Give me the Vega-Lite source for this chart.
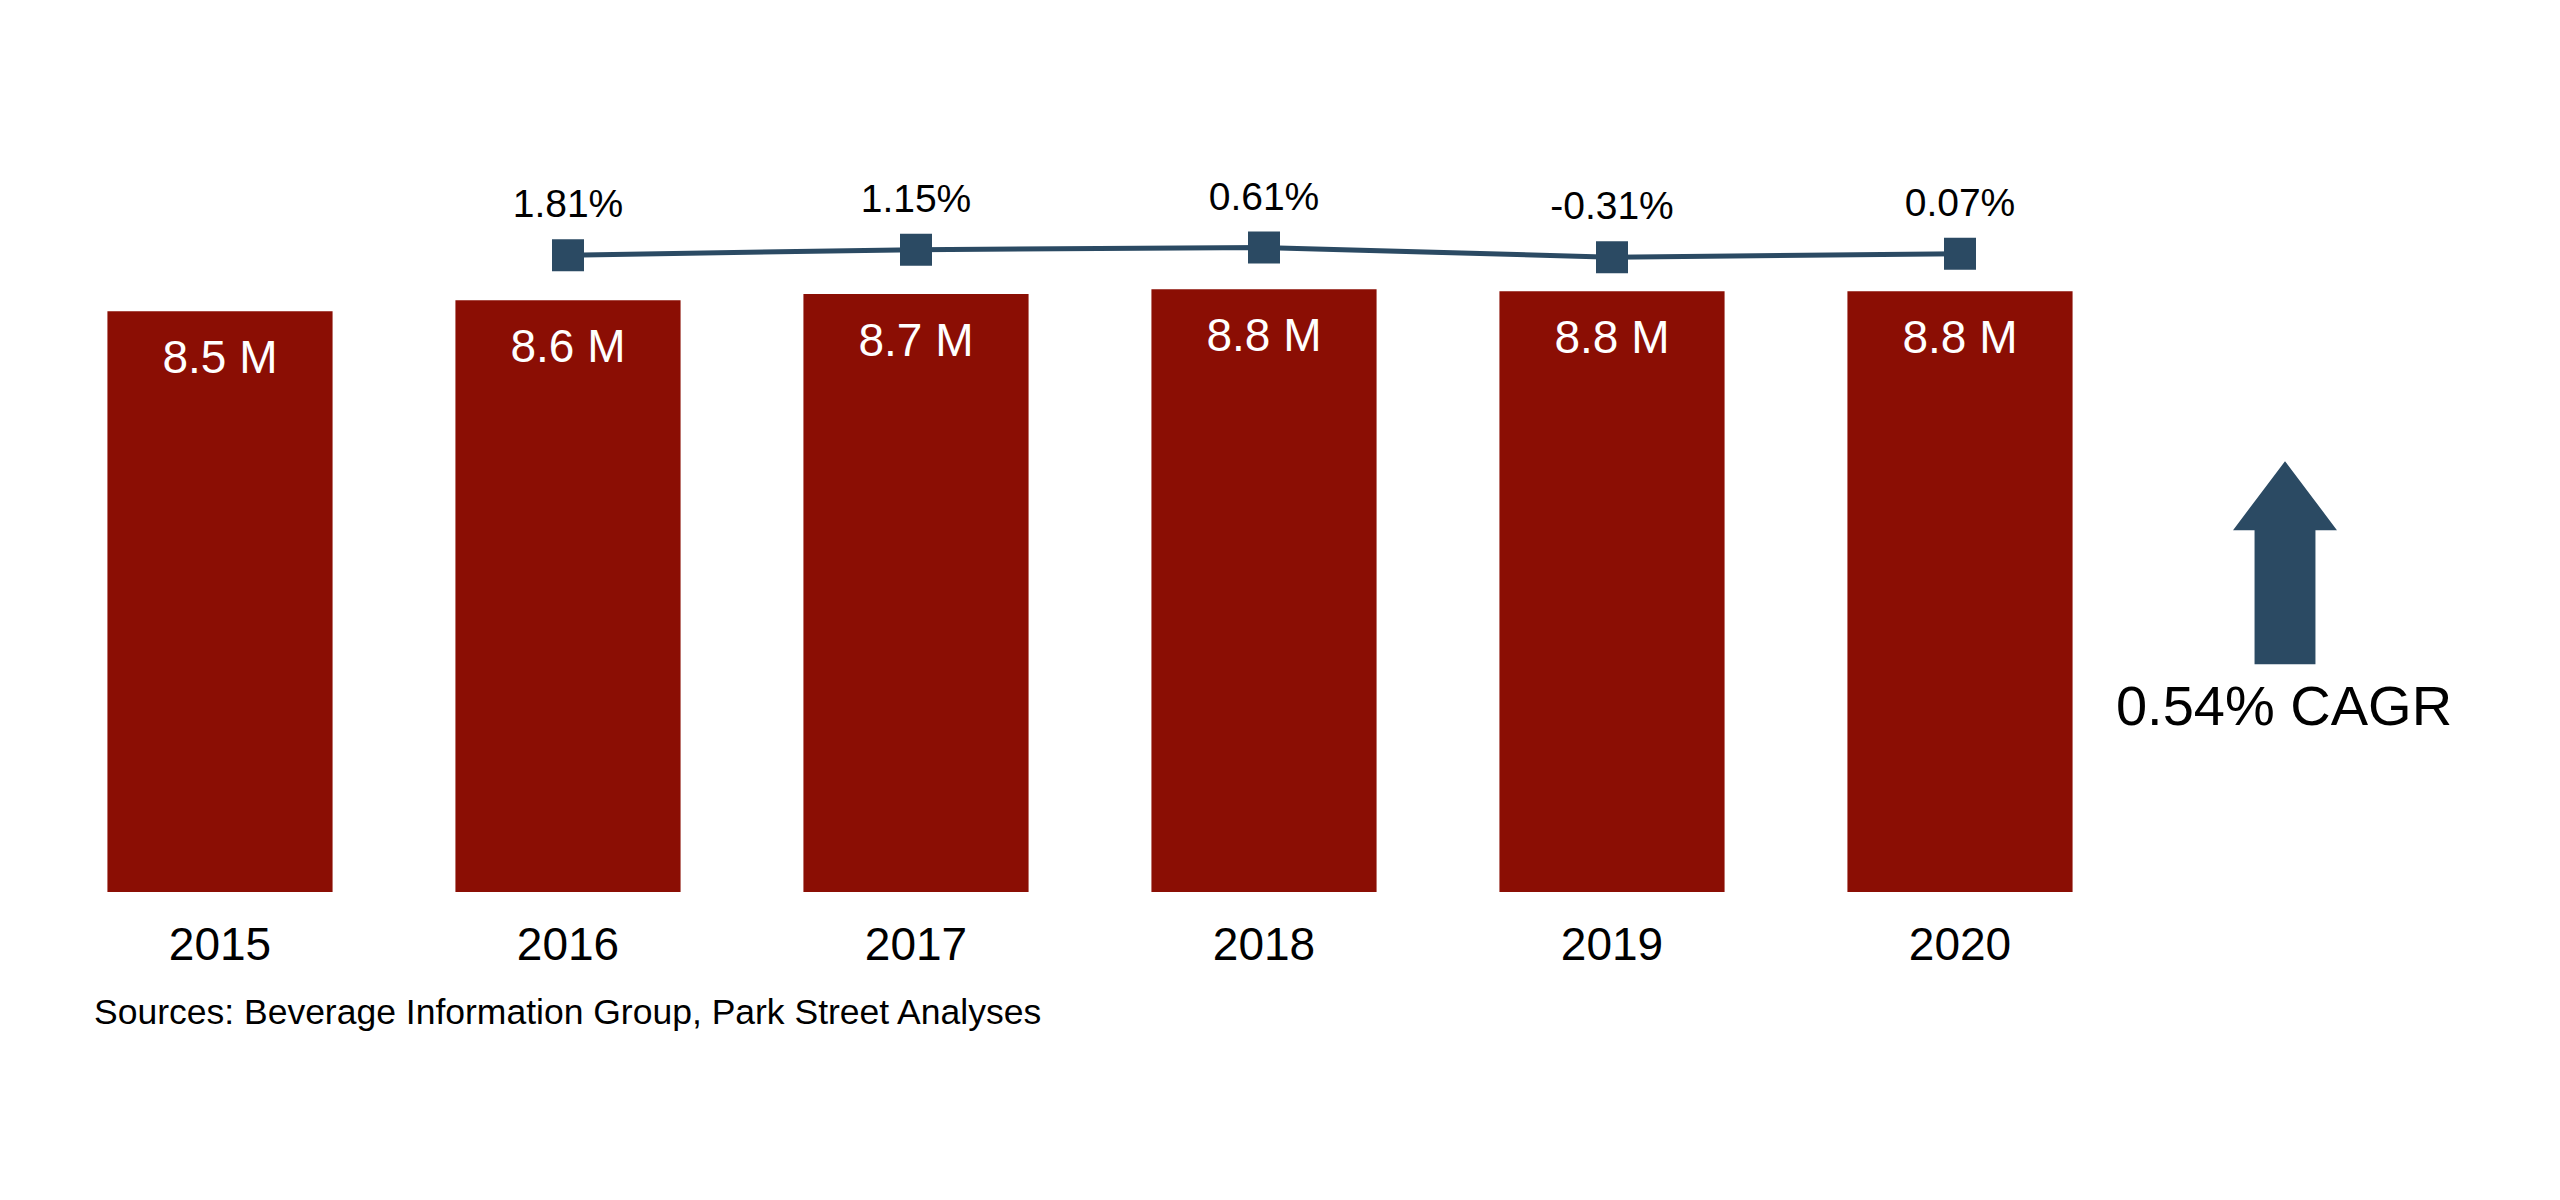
{
  "$schema": "https://vega.github.io/schema/vega-lite/v6.json",
  "autosize": {"type": "none"},
  "width": 2436, "height": 820,
  "padding": {"left": 46, "top": 72, "right": 78, "bottom": 308},
  "background": "white",

  "config": {
    "view": {"stroke": null},
    "font": "Liberation Sans",
    "axis": {"grid": false}
  },

  "title": {
    "text": "Sources: Beverage Information Group, Park Street Analyses",
    "orient": "bottom", "anchor": "start",
    "fontSize": 35.5, "fontWeight": "normal", "color": "black",
    "font": "Liberation Sans", "baseline": "alphabetic",
    "dx": 48, "offset": 56
  },

  "datasets": {
    "volume": [
      {"year": "2015", "volume": 8.50, "label": "8.5 M"},
      {"year": "2016", "volume": 8.66, "label": "8.6 M"},
      {"year": "2017", "volume": 8.75, "label": "8.7 M"},
      {"year": "2018", "volume": 8.82, "label": "8.8 M"},
      {"year": "2019", "volume": 8.79, "label": "8.8 M"},
      {"year": "2020", "volume": 8.79, "label": "8.8 M"}
    ],
    "growth": [
      {"year": "2016", "growth": "1.81%", "level": 9.32},
      {"year": "2017", "growth": "1.15%", "level": 9.40},
      {"year": "2018", "growth": "0.61%", "level": 9.43},
      {"year": "2019", "growth": "-0.31%", "level": 9.29},
      {"year": "2020", "growth": "0.07%", "level": 9.34}
    ],
    "cagr": [
      {"year": "CAGR", "label": "0.54% CAGR", "arrow_level": 4.82, "text_level": 2.44}
    ]
  },

  "encoding": {
    "x": {
      "field": "year", "type": "ordinal",
      "scale": {
        "domain": ["2015", "2016", "2017", "2018", "2019", "2020", "CAGR"],
        "paddingInner": 0.353, "paddingOuter": 0.1765
      },
      "axis": {
        "title": null, "domain": false, "ticks": false, "labelAngle": 0,
        "labelFontSize": 46, "labelColor": "black", "labelFont": "Liberation Sans",
        "labelBaseline": "alphabetic", "labelPadding": 67,
        "labelExpr": "datum.value == 'CAGR' ? '' : datum.value"
      }
    }
  },

  "layer": [
    {
      "data": {"name": "volume"},
      "mark": {"type": "bar", "color": "#8B0E04"},
      "encoding": {
        "y": {"field": "volume", "type": "quantitative", "scale": {"domain": [0, 12]}, "axis": null}
      }
    },
    {
      "data": {"name": "volume"},
      "mark": {"type": "text", "color": "white", "fontSize": 46, "baseline": "alphabetic", "dy": 62},
      "encoding": {
        "y": {"field": "volume", "type": "quantitative"},
        "text": {"field": "label"}
      }
    },
    {
      "data": {"name": "growth"},
      "mark": {"type": "line", "color": "#2B4A63", "strokeWidth": 5},
      "encoding": {
        "y": {"field": "level", "type": "quantitative"}
      }
    },
    {
      "data": {"name": "growth"},
      "mark": {"type": "point", "shape": "square", "size": 1024, "filled": true, "opacity": 1, "color": "#2B4A63"},
      "encoding": {
        "y": {"field": "level", "type": "quantitative"}
      }
    },
    {
      "data": {"name": "growth"},
      "mark": {"type": "text", "color": "black", "fontSize": 39, "baseline": "alphabetic", "dy": -38},
      "encoding": {
        "y": {"field": "level", "type": "quantitative"},
        "text": {"field": "growth"}
      }
    },
    {
      "data": {"name": "cagr"},
      "mark": {
        "type": "point",
        "shape": "M0,-1 L0.512,-0.32 L0.3,-0.32 L0.3,1 L-0.3,1 L-0.3,-0.32 L-0.512,-0.32 Z",
        "size": 41209, "filled": true, "opacity": 1, "strokeWidth": 0,
        "color": "#2B4A63", "xOffset": -23
      },
      "encoding": {
        "y": {"field": "arrow_level", "type": "quantitative"}
      }
    },
    {
      "data": {"name": "cagr"},
      "mark": {"type": "text", "color": "black", "fontSize": 56, "baseline": "alphabetic", "dx": -24},
      "encoding": {
        "y": {"field": "text_level", "type": "quantitative"},
        "text": {"field": "label"}
      }
    }
  ]
}
